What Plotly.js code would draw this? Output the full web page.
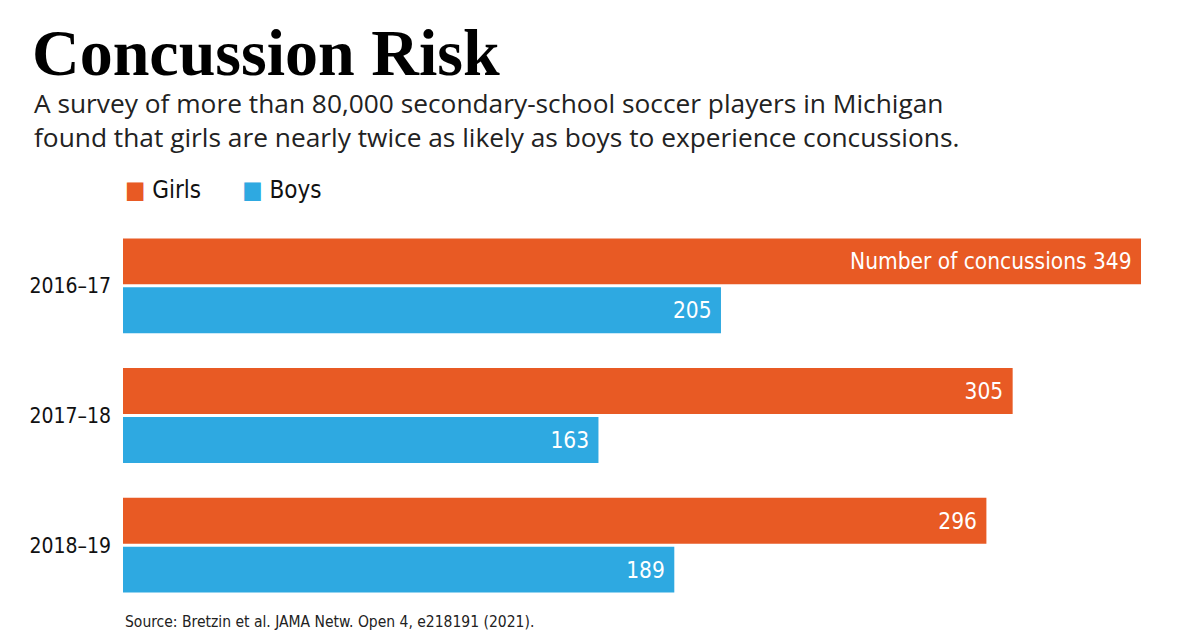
<!DOCTYPE html>
<html>
<head>
<meta charset="utf-8">
<script src="https://cdn.plot.ly/plotly-3.0.1.min.js"></script>
<style>html,body{margin:0;padding:0;background:#fff;}#chart{width:1200px;height:636px;}</style>
</head>
<body>
<div id="chart"></div>
<script>
const seasons = ["2016–17", "2017–18", "2018–19"];
const girls = [349, 305, 296];
const boys = [205, 163, 189];
const girlsLabels = ["Number of concussions %{x}", "%{x}", "%{x}"];
const boysLabels = ["%{x}", "%{x}", "%{x}"];
const subtitleLines = [
  "A survey of more than 80,000 secondary-school soccer players in Michigan",
  "found that girls are nearly twice as likely as boys to experience concussions."
];

const ORANGE = "#e85a24";
const BLUE = "#2ea9e1";
const NARROW = "DejaVu Sans Condensed, Liberation Sans Narrow, sans-serif";

const pad = "\u00a0";
const traces = [
  {
    type: "bar", orientation: "h", name: "Girls",
    y: seasons, x: girls,
    marker: {color: ORANGE},
    texttemplate: girlsLabels.map(t => t + pad),
    textposition: "inside", insidetextanchor: "end",
    textfont: {family: NARROW, size: 22.5, color: "#ffffff"},
    constraintext: "none", hoverinfo: "none"
  },
  {
    type: "bar", orientation: "h", name: "Boys",
    y: seasons, x: boys,
    marker: {color: BLUE},
    texttemplate: boysLabels.map(t => t + pad),
    textposition: "inside", insidetextanchor: "end",
    textfont: {family: NARROW, size: 22.5, color: "#ffffff"},
    constraintext: "none", hoverinfo: "none"
  }
];

const layout = {
  width: 1200, height: 636,
  paper_bgcolor: "#ffffff", plot_bgcolor: "#ffffff",
  margin: {l: 123, r: 59, t: 221, b: 26},
  barmode: "group", bargap: 0.246, bargroupgap: 0.06,
  showlegend: false,
  xaxis: {range: [0, 349], showgrid: false, zeroline: false, showticklabels: false, showline: false, fixedrange: true},
  yaxis: {
    autorange: "reversed", showgrid: false, zeroline: false, showline: false,
    ticks: "", ticklabelstandoff: 11,
    tickfont: {family: NARROW, size: 21, color: "#111111"}
  },
  annotations: [
    {xref: "paper", yref: "paper", x: -0.091, y: 1.0, xanchor: "left", yanchor: "top",
     yshift: 207, showarrow: false, align: "left",
     text: "<b>Concussion Risk</b>",
     font: {family: "Liberation Serif, DejaVu Serif, serif", size: 66, color: "#000000"}},
    {xref: "paper", yref: "paper", x: -0.089, y: 1.0, xanchor: "left", yanchor: "top",
     yshift: 138, showarrow: false, align: "left",
     text: subtitleLines.join("<br>"),
     font: {family: "Open Sans, Lato, sans-serif", size: 26.3, color: "#222222"}},
    {xref: "paper", yref: "paper", x: 0, y: 1.0, xanchor: "left", yanchor: "middle",
     yshift: 31, showarrow: false, align: "left",
     text: "<span style=\"color:" + ORANGE + "\">■</span> Girls      <span style=\"color:" + BLUE + "\">■</span> Boys",
     font: {family: NARROW, size: 24, color: "#111111"}},
    {xref: "paper", yref: "paper", x: 0, y: 0, xanchor: "left", yanchor: "top",
     yshift: -1, showarrow: false, align: "left",
     text: "Source: Bretzin et al. JAMA Netw. Open 4, e218191 (2021).",
     font: {family: NARROW, size: 15.5, color: "#222222"}}
  ]
};

Plotly.newPlot("chart", traces, layout, {displayModeBar: false, staticPlot: true});
</script>
</body>
</html>
